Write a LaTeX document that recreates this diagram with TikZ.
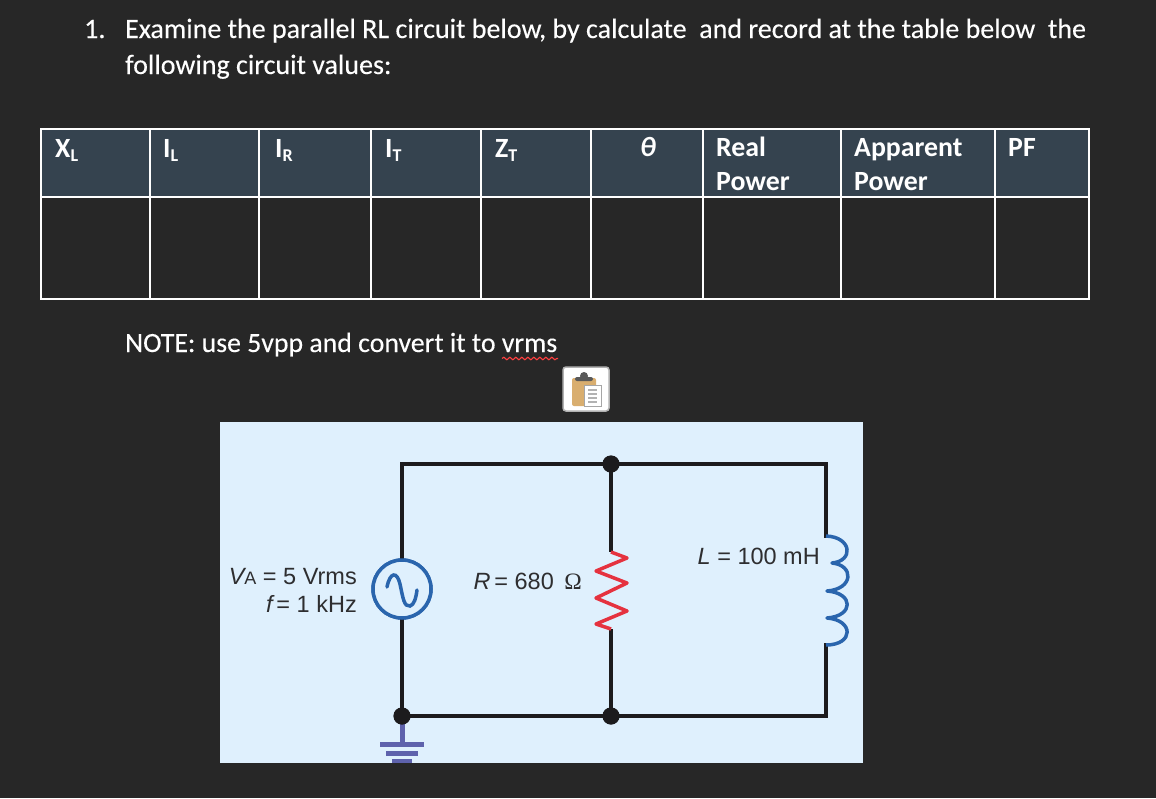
\documentclass[tikz,border=0pt]{standalone}
\usepackage{fontspec}
\setmainfont{Carlito}
\newfontfamily\circfont{Liberation Sans}
\newfontfamily\serfont{Liberation Serif}
\newfontfamily\bodyfont{Carlito}[FakeBold=0.25]
\usetikzlibrary{decorations.pathmorphing}
\definecolor{pagebg}{HTML}{272727}
\definecolor{headbg}{HTML}{35434F}
\definecolor{panelblue}{HTML}{DFF0FD}
\definecolor{wire}{HTML}{1C1B1D}
\definecolor{srcblue}{HTML}{2A65AD}
\definecolor{resred}{HTML}{E5323F}
\definecolor{gndblue}{HTML}{5E62AC}
\definecolor{txtdark}{HTML}{2E2E30}
\definecolor{boardtan}{HTML}{D9AE6F}
\tikzset{
  x=1pt,y=-1pt,
  bodytext/.style={text=white,anchor=base west,inner sep=0pt,font=\fontsize{28}{30}\selectfont\bodyfont},
  headtext/.style={text=white,anchor=base west,inner sep=0pt,font=\fontsize{27.8}{30}\selectfont\bfseries},
  gridline/.style={draw=white,line width=2pt},
  wireline/.style={draw=wire,line width=4.5pt,line cap=rect},
  junction/.style={circle,fill=wire,minimum size=17pt,inner sep=0pt},
  circtext/.style={text=txtdark,inner sep=0pt,font=\fontsize{23.5}{25}\selectfont\circfont},
  gndbar/.style={fill=gndblue,draw=none},
}
\newcommand{\subs}[1]{{\fontsize{18}{18}\selectfont\raisebox{-4pt}{#1}}}
\begin{document}
\begin{tikzpicture}
\useasboundingbox (0,0) rectangle (1156,798);
\fill[pagebg] (0,0) rectangle (1156,798);
% heading
\node[bodytext] (num) at (84,38) {1.};
\node[bodytext] (l1) at (125,38) {Examine the parallel RL circuit below, by calculate\ \ and record at the table below\ \ the};
\node[bodytext] (l2) at (125,74) {following circuit values:};
% table
\fill[headbg] (41,129) rectangle (1089,197);
\draw[gridline] (41,129) rectangle (1089,299);
\draw[gridline] (41,197) -- (1089,197);
\foreach \gx in {150,259,371,481,591,703,841,995}{\draw[gridline] (\gx,129) -- (\gx,299);}
\node[headtext] (h1) at (55,157) {X\subs{L}};
\node[headtext] (h2) at (163,157) {I\subs{L}};
\node[headtext] (h3) at (275,157) {I\subs{R}};
\node[headtext] (h4) at (385,157) {I\subs{T}};
\node[headtext] (h5) at (495,157) {Z\subs{T}};
\node[headtext,anchor=base] (h6) at (648,156) {\itshape θ};
\node[headtext] (h7) at (716,156) {Real};
\node[headtext] (h7b) at (716,190) {Power};
\node[headtext] (h8) at (854,156) {Apparent};
\node[headtext] (h8b) at (854,190) {Power};
\node[headtext] (h9) at (1008,156) {PF};
% note
\node[bodytext,font=\fontsize{27.8}{30}\selectfont\bodyfont] (note) at (125,352) {NOTE: use 5vpp and convert it to vrms};
\draw[draw=red!75!white,line width=1.1pt,decorate,decoration={snake,amplitude=1.3pt,segment length=6pt}] (502,358.5) -- (558,358.5);
% clipboard icon
\fill[white,draw=gray!60,line width=1.5pt,rounded corners=3pt] (563,367) rectangle (609,411);
\fill[boardtan,rounded corners=2pt] (572,378) rectangle (596,406);
\fill[gray!70!black,rounded corners=2pt] (575,377) rectangle (593,381);
\fill[gray!70!black] (584,376) circle (4pt);
\fill[white,draw=gray!70,line width=.6pt] (584,385) rectangle (601,406);
\foreach \ly in {389,393,397,401}{\fill[gray!60] (588,\ly) rectangle (597,\ly+1.8);}
% circuit panel
\fill[panelblue] (220,422) rectangle (863,763);
% ground
\draw[draw=gndblue,line width=5pt] (402,716) -- (402,744);
\fill[gndbar] (380,742) rectangle (424,747);
\fill[gndbar] (386,751) rectangle (418,756);
\fill[gndbar] (392,759) rectangle (412,763);
% wires
\node[junction] (jtop) at (611,464) {};
\node[junction] (jbl) at (402,716) {};
\node[junction] (jbm) at (611,716) {};
\coordinate (tl) at (402,464);
\coordinate (tr) at (826,464);
\coordinate (br) at (826,716);
\coordinate (ltop) at (826,536);
\coordinate (lbot) at (826,645);
\coordinate (rtop) at (611,552);
\coordinate (rbot) at (611,629);
\node[circle,draw=srcblue,line width=3.5pt,fill=panelblue,minimum size=58pt,inner sep=0pt] (src) at (402,589) {};
\draw[wireline] (src.north) -- (tl) -- (jtop.center) -- (tr) -- (ltop);
\draw[wireline] (src.south) -- (jbl.center) -- (jbm.center) -- (br) -- (lbot);
\draw[wireline,line cap=butt] (jtop.center) -- (rtop);
\draw[wireline,line cap=butt] (rbot) -- (jbm.center);
\node[circle,draw=srcblue,line width=3.5pt,fill=panelblue,minimum size=58pt,inner sep=0pt] at (402,589) {};
\node[junction] at (611,464) {};
\node[junction] at (402,716) {};
\node[junction] at (611,716) {};
% sine
\draw[srcblue,line width=3.5pt,line cap=round] (387,587) .. controls (390,572) and (397,571) .. (400,584) .. controls (403,598) and (404,607) .. (410,606) .. controls (414,605) and (416,598) .. (417,590);
% resistor
\draw[resred,line width=3.5pt,line join=round] (rtop) -- (627,558) -- (596,571) -- (627,583) -- (596,598) -- (627,611) -- (596,624) -- (rbot);
% inductor
\draw[srcblue,line width=3.5pt,line join=round] (ltop) .. controls (852,537) and (854,561) .. (832,563)
  .. controls (854,565) and (854,589) .. (827,591)
  .. controls (854,593) and (854,616) .. (827,618)
  .. controls (854,620) and (854,645) .. (lbot);
% labels
\node[circtext,anchor=base east] (va) at (357,584) {\itshape V\upshape{\fontsize{18}{18}\selectfont A} = 5 Vrms};
\node[circtext,anchor=base east] (fr) at (357,612) {\itshape f\upshape\,= 1 kHz};
\node[circtext,anchor=base east] (rl) at (582,589) {\itshape R\upshape\,= 680\ \,{\serfont Ω}};
\node[circtext,anchor=base east] (ll) at (820,564) {\itshape L\upshape\ = 100 mH};
\end{tikzpicture}
\end{document}
